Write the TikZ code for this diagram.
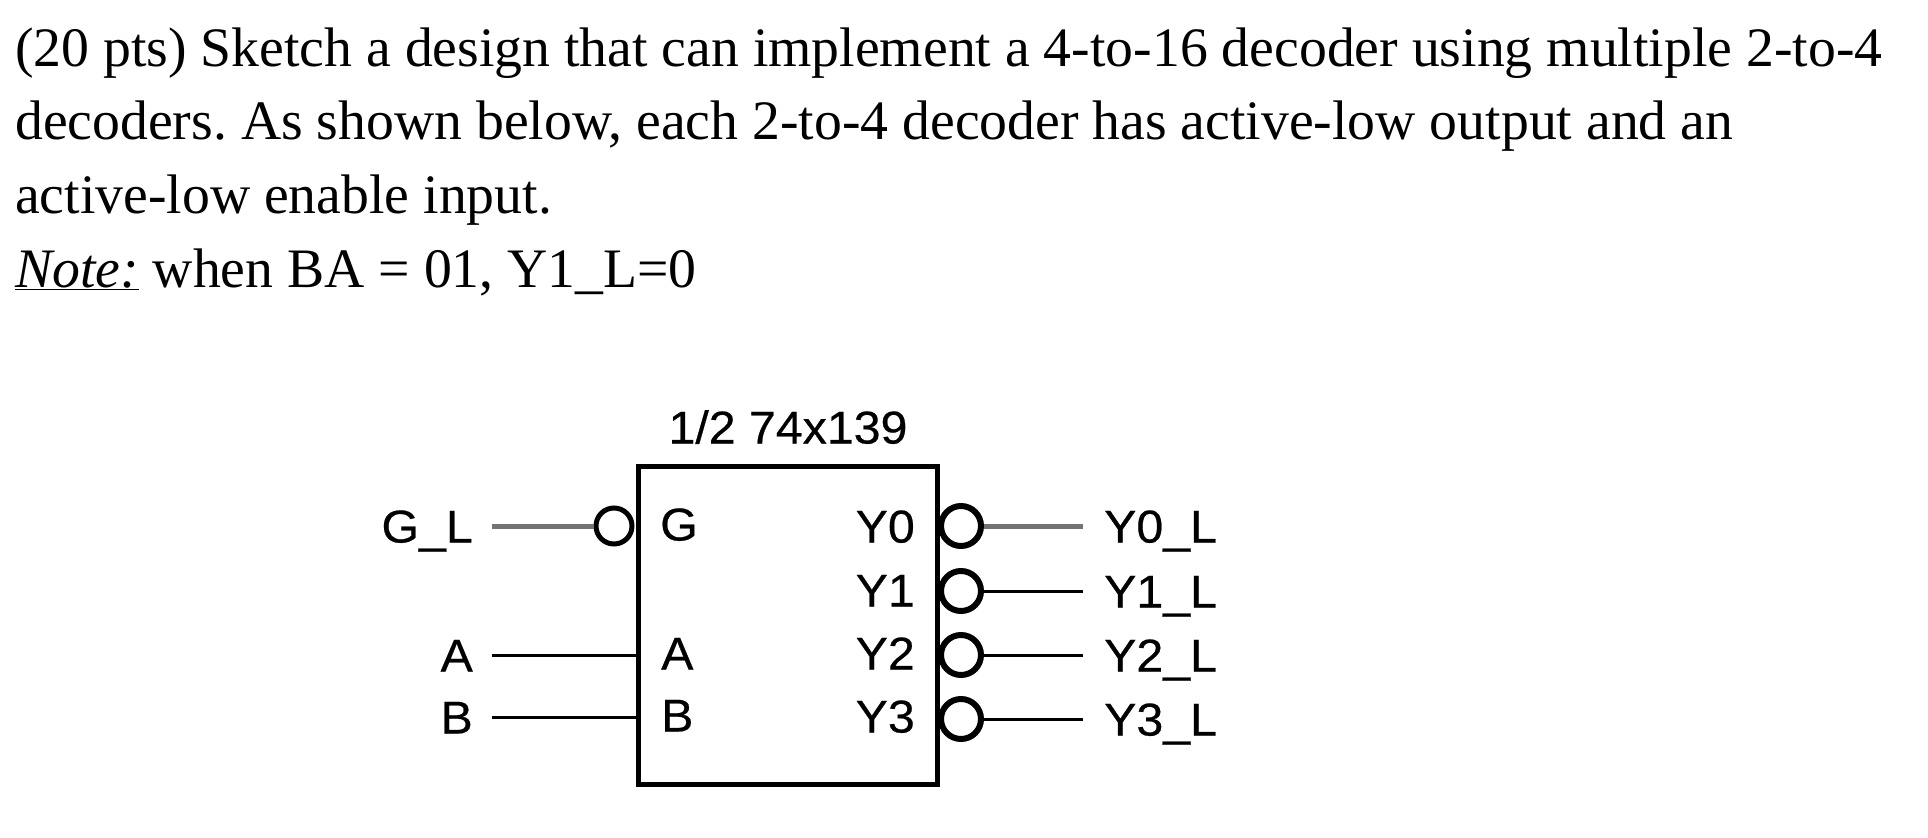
\documentclass[tikz,border=0pt]{standalone}
\usepackage{fontspec}
\setmainfont{Liberation Serif}
\newfontfamily\dgmfont[FakeStretch=1.05,FakeBold=0.5]{Liberation Sans}
\frenchspacing
\begin{document}
\begin{tikzpicture}[x=1pt,y=-1pt,
  para/.style={anchor=base west,inner sep=0pt,font=\fontsize{55.7}{60}\selectfont},
  sig/.style={inner ysep=0pt,text height=33pt,text depth=0pt,font=\dgmfont\fontsize{46}{50}\selectfont},
  extl/.style={sig,anchor=east,inner xsep=19pt},
  extr/.style={sig,anchor=west,inner xsep=21pt},
  intl/.style={sig,anchor=west,inner xsep=0pt},
  intr/.style={sig,anchor=east,inner xsep=0pt},
  wire/.style={line width=3pt,black},
  wireg/.style={line width=5pt,black!55},
  bub/.style={circle,draw,line width=6pt,fill=white,minimum size=40pt,inner sep=0pt},
  chip/.style={draw,line width=5pt,minimum width=299pt,minimum height=318pt,inner sep=0pt,anchor=north west}]
\useasboundingbox (0,0) rectangle (1928,838);
\node[para] (t1) at (15,66) {(20 pts) Sketch a design that can implement a 4-to-16 decoder using multiple 2-to-4};
\node[para] (t2) at (15,139) {decoders. As shown below, each 2-to-4 decoder has active-low output and an};
\node[para] (t3) at (15,213) {active-low enable input.};
\node[para] (t4) at (15,287) {\underline{\textit{Note:}} when BA = 01, Y1\_L=0};
\node[chip] (box) at (636,464) {};
\node[sig,anchor=center] (title) at (788,427) {1/2 74x139};
% internal labels
\node[intl] (ig) at (660,524) {G};
\node[intl] (ia) at (661,653) {A};
\node[intl] (ib) at (661,715) {B};
\node[intr] (iy0) at (915,526) {Y0};
\node[intr] (iy1) at (915,590) {Y1};
\node[intr] (iy2) at (915,653) {Y2};
\node[intr] (iy3) at (915,716) {Y3};
% external labels
\node[extl] (gl) at (492,526) {G\_L};
\node[extl] (a) at (492,655) {A};
\node[extl] (b) at (492,717) {B};
\node[extr] (y0) at (1083,526) {Y0\_L};
\node[extr] (y1) at (1083,591) {Y1\_L};
\node[extr] (y2) at (1083,655) {Y2\_L};
\node[extr] (y3) at (1083,719) {Y3\_L};
% bubbles
\node[bub,minimum size=36pt,line width=5pt] (bg) at (614,526) {};
\node[bub] (b0) at (961,526) {};
\node[bub] (b1) at (961,591) {};
\node[bub] (b2) at (961,655) {};
\node[bub] (b3) at (961,719) {};
% connectors
\draw[wireg] (gl.east) -- (bg.west);
\draw[wire] (a.east) -- (box.west |- a.east);
\draw[wire] (b.east) -- (box.west |- b.east);
\draw[wireg] (b0.east) -- (y0.west);
\draw[wire] (b1.east) -- (y1.west);
\draw[wire] (b2.east) -- (y2.west);
\draw[wire] (b3.east) -- (y3.west);
\end{tikzpicture}
\end{document}
